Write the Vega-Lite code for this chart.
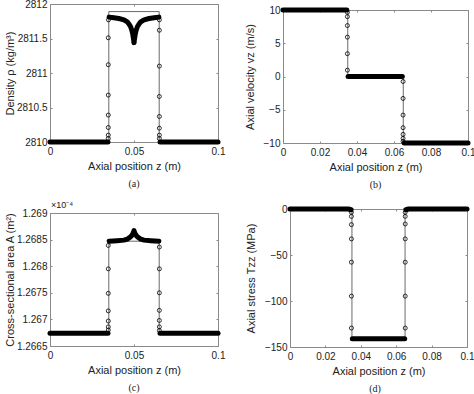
{
  "$schema": "https://vega.github.io/schema/vega-lite/v6.json",
  "padding": {"left": 3, "top": -1, "right": 0, "bottom": 0},
  "background": "white",
  "config": {
    "font": "Liberation Sans",
    "view": {"stroke": null},
    "axis": {"grid": false, "domainColor": "#8a8a8a", "tickColor": "#8a8a8a", "tickSize": -2, "labelOverlap": false, "labelFlush": false, "labelFont": "Liberation Sans", "labelFontSize": 10, "labelColor": "#222", "titleFont": "Liberation Sans", "titleFontSize": 11, "titleFontWeight": "normal", "titleColor": "#222"},
    "axisX": {"labelPadding": 6, "titlePadding": 4},
    "axisY": {"labelPadding": 5, "titlePadding": 3},
    "title": {"font": "Liberation Serif", "fontSize": 10, "fontWeight": "normal", "color": "#222", "orient": "bottom", "offset": 8}
  },
  "datasets": {
    "a_exact": [
      {"i":1,"z":0,"v":2810},{"i":2,"z":0.035,"v":2810},{"i":3,"z":0.035,"v":2811.89},{"i":4,"z":0.065,"v":2811.89},{"i":5,"z":0.065,"v":2810},{"i":6,"z":0.1,"v":2810}
    ],
    "a_band": [
      {"s":1,"z":0,"v":2810},{"s":1,"z":0.0345,"v":2810},
      {"s":2,"z":0.0352,"v":2811.81},{"s":2,"z":0.038,"v":2811.80},{"s":2,"z":0.041,"v":2811.79},{"s":2,"z":0.044,"v":2811.77},{"s":2,"z":0.046,"v":2811.74},{"s":2,"z":0.047,"v":2811.71},{"s":2,"z":0.048,"v":2811.67},{"s":2,"z":0.0487,"v":2811.62},{"s":2,"z":0.0492,"v":2811.57},{"s":2,"z":0.0496,"v":2811.51},{"s":2,"z":0.0499,"v":2811.46},{"s":2,"z":0.05,"v":2811.44},{"s":2,"z":0.0501,"v":2811.46},{"s":2,"z":0.0504,"v":2811.51},{"s":2,"z":0.0508,"v":2811.57},{"s":2,"z":0.0513,"v":2811.62},{"s":2,"z":0.052,"v":2811.67},{"s":2,"z":0.053,"v":2811.71},{"s":2,"z":0.054,"v":2811.74},{"s":2,"z":0.056,"v":2811.77},{"s":2,"z":0.059,"v":2811.79},{"s":2,"z":0.062,"v":2811.80},{"s":2,"z":0.0648,"v":2811.81},
      {"s":3,"z":0.0655,"v":2810},{"s":3,"z":0.1,"v":2810}
    ],
    "a_pts": [
      {"z":0.0347,"v":2810.05},{"z":0.0347,"v":2810.10},{"z":0.0347,"v":2810.21},{"z":0.0347,"v":2810.39},{"z":0.0347,"v":2810.68},{"z":0.0347,"v":2811.12},{"z":0.0347,"v":2811.51},{"z":0.0348,"v":2811.77},
      {"z":0.0651,"v":2811.77},{"z":0.0651,"v":2811.62},{"z":0.0651,"v":2811.10},{"z":0.0651,"v":2810.66},{"z":0.0651,"v":2810.37},{"z":0.0651,"v":2810.20},{"z":0.0651,"v":2810.10},{"z":0.0651,"v":2810.05},
      {"z":0.05,"v":2811.44}
    ],
    "b_exact": [
      {"i":1,"z":0,"v":10},{"i":2,"z":0.035,"v":10},{"i":3,"z":0.035,"v":0},{"i":4,"z":0.065,"v":0},{"i":5,"z":0.065,"v":-10},{"i":6,"z":0.1,"v":-10}
    ],
    "b_band": [
      {"s":1,"z":0,"v":10},{"s":1,"z":0.0345,"v":10},
      {"s":2,"z":0.0352,"v":0},{"s":2,"z":0.0645,"v":0},
      {"s":3,"z":0.0655,"v":-10},{"s":3,"z":0.1,"v":-10}
    ],
    "b_pts": [
      {"z":0.0348,"v":9.65},{"z":0.0348,"v":9.0},{"z":0.0348,"v":7.66},{"z":0.0348,"v":5.92},{"z":0.0348,"v":3.43},{"z":0.0348,"v":0.95},
      {"z":0.0649,"v":-0.75},{"z":0.0649,"v":-3.3},{"z":0.0649,"v":-5.8},{"z":0.0649,"v":-7.7},{"z":0.0649,"v":-8.7},{"z":0.0649,"v":-9.3},{"z":0.0649,"v":-9.75}
    ],
    "c_exact": [
      {"i":1,"z":0,"v":1.26674},{"i":2,"z":0.035,"v":1.26674},{"i":3,"z":0.035,"v":1.26847},{"i":4,"z":0.065,"v":1.26847},{"i":5,"z":0.065,"v":1.26674},{"i":6,"z":0.1,"v":1.26674}
    ],
    "c_band": [
      {"s":1,"z":0,"v":1.26674},{"s":1,"z":0.0345,"v":1.26674},
      {"s":2,"z":0.0352,"v":1.26847},{"s":2,"z":0.040,"v":1.26848},{"s":2,"z":0.044,"v":1.26849},{"s":2,"z":0.046,"v":1.26851},{"s":2,"z":0.0475,"v":1.26854},{"s":2,"z":0.0485,"v":1.26857},{"s":2,"z":0.0493,"v":1.26861},{"s":2,"z":0.0498,"v":1.26865},{"s":2,"z":0.05,"v":1.26867},{"s":2,"z":0.0502,"v":1.26865},{"s":2,"z":0.0507,"v":1.26861},{"s":2,"z":0.0515,"v":1.26857},{"s":2,"z":0.0525,"v":1.26854},{"s":2,"z":0.054,"v":1.26851},{"s":2,"z":0.056,"v":1.26849},{"s":2,"z":0.060,"v":1.26848},{"s":2,"z":0.0648,"v":1.26847},
      {"s":3,"z":0.0655,"v":1.26674},{"s":3,"z":0.1,"v":1.26674}
    ],
    "c_pts": [
      {"z":0.0347,"v":1.26680},{"z":0.0347,"v":1.26686},{"z":0.0347,"v":1.26697},{"z":0.0347,"v":1.26716},{"z":0.0347,"v":1.26749},{"z":0.0347,"v":1.26795},{"z":0.0347,"v":1.26839},
      {"z":0.0651,"v":1.26836},{"z":0.0651,"v":1.26795},{"z":0.0651,"v":1.26750},{"z":0.0651,"v":1.26717},{"z":0.0651,"v":1.26698},{"z":0.0651,"v":1.26686},{"z":0.0651,"v":1.26679}
    ],
    "c_note": [
      {"z":0,"v":1.269,"t":"×10⁻⁴"}
    ],
    "d_exact": [
      {"i":1,"z":0,"v":0},{"i":2,"z":0.035,"v":0},{"i":3,"z":0.035,"v":-141},{"i":4,"z":0.065,"v":-141},{"i":5,"z":0.065,"v":0},{"i":6,"z":0.1,"v":0}
    ],
    "d_band": [
      {"s":1,"z":0,"v":0},{"s":1,"z":0.033,"v":0},{"s":1,"z":0.0345,"v":-0.8},
      {"s":2,"z":0.0352,"v":-141},{"s":2,"z":0.0648,"v":-141},
      {"s":3,"z":0.0655,"v":-0.8},{"s":3,"z":0.067,"v":0},{"s":3,"z":0.1,"v":0}
    ],
    "d_pts": [
      {"z":0.0347,"v":-3.6},{"z":0.0347,"v":-8},{"z":0.0347,"v":-17},{"z":0.0347,"v":-32.5},{"z":0.0347,"v":-57.8},{"z":0.0347,"v":-94.7},{"z":0.0347,"v":-129.4},
      {"z":0.0651,"v":-3.6},{"z":0.0651,"v":-8},{"z":0.0651,"v":-16.3},{"z":0.0651,"v":-32.5},{"z":0.0651,"v":-57.8},{"z":0.0651,"v":-94.7},{"z":0.0651,"v":-129.4}
    ]
  },
  "hconcat": [
    {
      "spacing": 12,
      "vconcat": [
        {
          "width": 168, "height": 138,
          "title": {"text": "(a)"},
          "resolve": {"axis": {"x": "independent", "y": "independent"}},
          "layer": [
            {"data": {"name": "a_exact"}, "mark": {"type": "line", "color": "#444", "strokeWidth": 0.8},
             "encoding": {
               "x": {"field": "z", "type": "quantitative", "scale": {"domain": [0, 0.1], "nice": false}, "axis": {"orient": "bottom", "values": [0, 0.05, 0.1], "format": ".12~g", "title": "Axial position z (m)"}},
               "y": {"field": "v", "type": "quantitative", "scale": {"domain": [2810, 2812], "nice": false, "zero": false}, "axis": {"orient": "left", "values": [2810, 2810.5, 2811, 2811.5, 2812], "format": ".12~g", "title": "Density ρ (kg/m³)", "minExtent": 32, "maxExtent": 32}},
               "order": {"field": "i"}
             }},
            {"data": {"name": "a_band"}, "mark": {"type": "line", "color": "black", "strokeWidth": 5, "strokeCap": "round", "strokeJoin": "round"},
             "encoding": {
               "x": {"field": "z", "type": "quantitative", "axis": {"orient": "top", "values": [0, 0.05, 0.1], "labels": false, "title": null, "minExtent": 0, "maxExtent": 0}},
               "y": {"field": "v", "type": "quantitative", "axis": {"orient": "right", "values": [2810, 2810.5, 2811, 2811.5, 2812], "labels": false, "title": null, "minExtent": 0, "maxExtent": 0}},
               "detail": {"field": "s"}}},
            {"data": {"name": "a_pts"}, "mark": {"type": "point", "shape": "circle", "filled": false, "color": "black", "size": 16, "strokeWidth": 0.8, "opacity": 1},
             "encoding": {"x": {"field": "z", "type": "quantitative", "axis": null}, "y": {"field": "v", "type": "quantitative", "axis": null}}}
          ]
        },
        {
          "width": 168, "height": 133,
          "title": {"text": "(c)"},
          "resolve": {"axis": {"x": "independent", "y": "independent"}},
          "layer": [
            {"data": {"name": "c_exact"}, "mark": {"type": "line", "color": "#444", "strokeWidth": 0.8},
             "encoding": {
               "x": {"field": "z", "type": "quantitative", "scale": {"domain": [0, 0.1], "nice": false}, "axis": {"orient": "bottom", "values": [0, 0.05, 0.1], "format": ".12~g", "title": "Axial position z (m)"}},
               "y": {"field": "v", "type": "quantitative", "scale": {"domain": [1.2665, 1.269], "nice": false, "zero": false}, "axis": {"orient": "left", "values": [1.2665, 1.267, 1.2675, 1.268, 1.2685, 1.269], "format": ".12~g", "title": "Cross-sectional area A (m²)", "minExtent": 32, "maxExtent": 32}},
               "order": {"field": "i"}
             }},
            {"data": {"name": "c_band"}, "mark": {"type": "line", "color": "black", "strokeWidth": 5, "strokeCap": "round", "strokeJoin": "round"},
             "encoding": {
               "x": {"field": "z", "type": "quantitative", "axis": {"orient": "top", "values": [0, 0.05, 0.1], "labels": false, "title": null, "minExtent": 12, "maxExtent": 12}},
               "y": {"field": "v", "type": "quantitative", "axis": {"orient": "right", "values": [1.2665, 1.267, 1.2675, 1.268, 1.2685, 1.269], "labels": false, "title": null, "minExtent": 0, "maxExtent": 0}},
               "detail": {"field": "s"}}},
            {"data": {"name": "c_pts"}, "mark": {"type": "point", "shape": "circle", "filled": false, "color": "black", "size": 16, "strokeWidth": 0.8, "opacity": 1},
             "encoding": {"x": {"field": "z", "type": "quantitative", "axis": null}, "y": {"field": "v", "type": "quantitative", "axis": null}}},
            {"data": {"name": "c_note"}, "mark": {"type": "text", "align": "left", "baseline": "bottom", "dx": 1, "dy": -3, "fontSize": 9, "color": "#222"},
             "encoding": {"x": {"field": "z", "type": "quantitative", "axis": null}, "y": {"field": "v", "type": "quantitative", "axis": null}, "text": {"field": "t"}}}
          ]
        }
      ]
    },
    {
      "spacing": 13,
      "vconcat": [
        {
          "width": 185, "height": 139,
          "title": {"text": "(b)"},
          "resolve": {"axis": {"x": "independent", "y": "independent"}},
          "layer": [
            {"data": {"name": "b_exact"}, "mark": {"type": "line", "color": "#444", "strokeWidth": 0.8},
             "encoding": {
               "x": {"field": "z", "type": "quantitative", "scale": {"domain": [0, 0.1], "nice": false}, "axis": {"orient": "bottom", "values": [0, 0.02, 0.04, 0.06, 0.08, 0.1], "format": ".12~g", "title": "Axial position z (m)"}},
               "y": {"field": "v", "type": "quantitative", "scale": {"domain": [-10, 10], "nice": false, "range": [139, 6]}, "axis": {"orient": "left", "values": [-10, -5, 0, 5, 10], "format": ".12~g", "title": "Axial velocity vz (m/s)", "minExtent": 25, "maxExtent": 25}},
               "order": {"field": "i"}
             }},
            {"data": {"name": "b_band"}, "mark": {"type": "line", "color": "black", "strokeWidth": 5, "strokeCap": "round", "strokeJoin": "round"},
             "encoding": {
               "x": {"field": "z", "type": "quantitative", "axis": {"orient": "top", "offset": -6, "values": [0, 0.02, 0.04, 0.06, 0.08, 0.1], "labels": false, "title": null, "minExtent": 0, "maxExtent": 0}},
               "y": {"field": "v", "type": "quantitative", "axis": {"orient": "right", "values": [-10, -5, 0, 5, 10], "labels": false, "title": null, "minExtent": 0, "maxExtent": 0}},
               "detail": {"field": "s"}}},
            {"data": {"name": "b_pts"}, "mark": {"type": "point", "shape": "circle", "filled": false, "color": "black", "size": 16, "strokeWidth": 0.8, "opacity": 1},
             "encoding": {"x": {"field": "z", "type": "quantitative", "axis": null}, "y": {"field": "v", "type": "quantitative", "axis": null}}}
          ]
        },
        {
          "width": 184, "height": 138,
          "title": {"text": "(d)"},
          "resolve": {"axis": {"x": "independent", "y": "independent"}},
          "layer": [
            {"data": {"name": "d_exact"}, "mark": {"type": "line", "color": "#444", "strokeWidth": 0.8},
             "encoding": {
               "x": {"field": "z", "type": "quantitative", "scale": {"domain": [0, 0.1], "nice": false, "range": [7, 184]}, "axis": {"orient": "bottom", "values": [0, 0.02, 0.04, 0.06, 0.08, 0.1], "format": ".12~g", "title": "Axial position z (m)"}},
               "y": {"field": "v", "type": "quantitative", "scale": {"domain": [-150, 0], "nice": false}, "axis": {"orient": "left", "offset": -7, "values": [-150, -100, -50, 0], "format": ".12~g", "title": "Axial stress Tzz (MPa)", "minExtent": 31, "maxExtent": 31}},
               "order": {"field": "i"}
             }},
            {"data": {"name": "d_band"}, "mark": {"type": "line", "color": "black", "strokeWidth": 5, "strokeCap": "round", "strokeJoin": "round"},
             "encoding": {
               "x": {"field": "z", "type": "quantitative", "axis": {"orient": "top", "values": [0, 0.02, 0.04, 0.06, 0.08, 0.1], "labels": false, "title": null, "minExtent": 6, "maxExtent": 6}},
               "y": {"field": "v", "type": "quantitative", "axis": {"orient": "right", "values": [-150, -100, -50, 0], "labels": false, "title": null, "minExtent": 0, "maxExtent": 0}},
               "detail": {"field": "s"}}},
            {"data": {"name": "d_pts"}, "mark": {"type": "point", "shape": "circle", "filled": false, "color": "black", "size": 16, "strokeWidth": 0.8, "opacity": 1},
             "encoding": {"x": {"field": "z", "type": "quantitative", "axis": null}, "y": {"field": "v", "type": "quantitative", "axis": null}}}
          ]
        }
      ]
    }
  ],
  "spacing": 19
}
